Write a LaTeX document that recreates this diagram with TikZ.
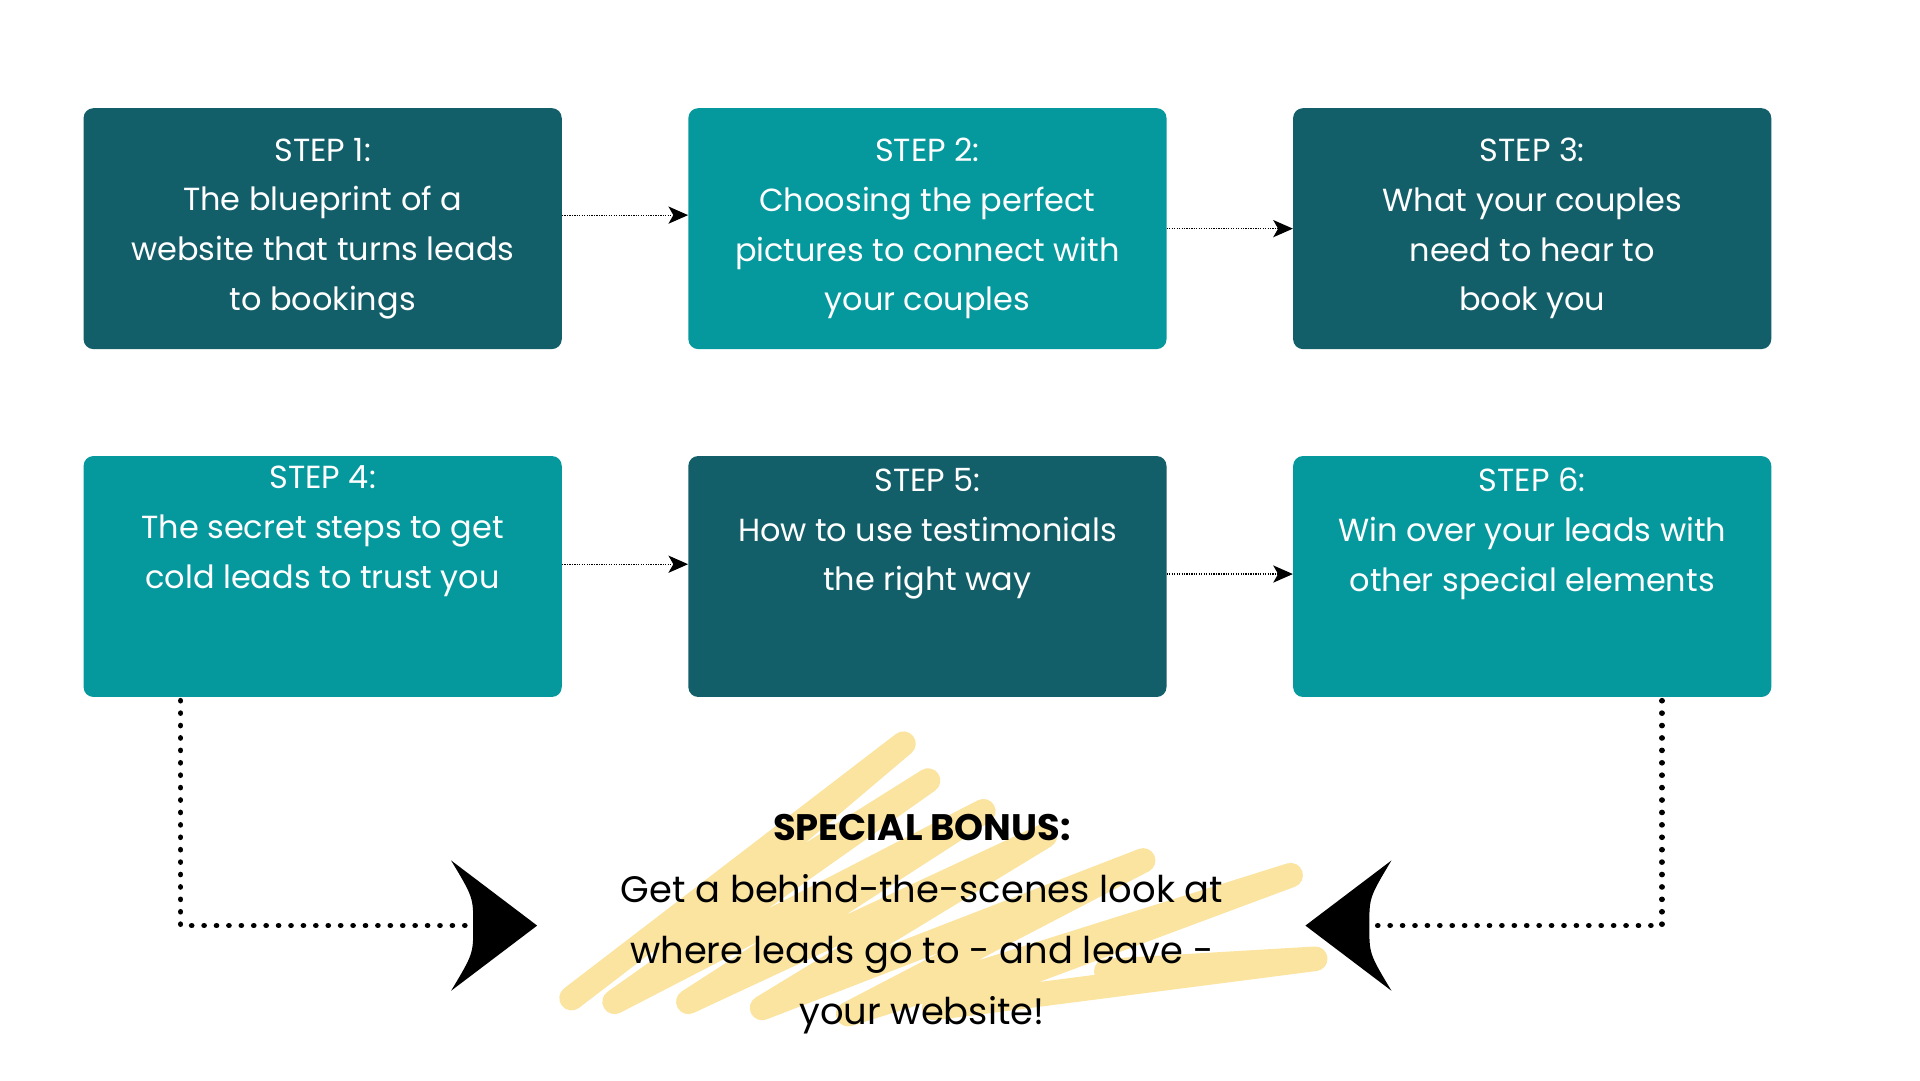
\documentclass[tikz,border=0pt]{standalone}
\usepackage{fontspec}
\setmainfont{Poppins}
\usetikzlibrary{arrows.meta}
\definecolor{dark}{HTML}{125E69}
\definecolor{teal}{HTML}{05989D}
\definecolor{scrib}{HTML}{FBE3A0}
\begin{document}
\begin{tikzpicture}[x=1pt,y=-1pt,
  box/.style={rounded corners=8pt,minimum width=389pt,minimum height=196pt,inner sep=0pt,text=white,align=center,font=\fontsize{26}{40.5}\selectfont},
  link/.style={densely dotted,line width=1pt,-{Stealth[length=16pt,width=14pt,inset=4pt]}},
  big/.style={dotted,line width=4.5pt,line cap=round,dash pattern=on 0.1pt off 10pt}]
\useasboundingbox (0,0) rectangle (1562,879);
\node[box,fill=dark] (s1) at (262.5,186) {STEP 1:\\The blueprint of a\\website that turns leads\\to bookings};
\node[box,fill=teal] (s2) at (754.5,186) {STEP 2:\\Choosing the perfect\\pictures to connect with\\your couples};
\node[box,fill=dark] (s3) at (1246.5,186) {STEP 3:\\What your couples\\need to hear to\\book you};
\node[box,fill=teal] (s4) at (262.5,469) {STEP 4:\\The secret steps to get\\cold leads to trust you\\[40pt]};
\node[box,fill=dark] (s5) at (754.5,469) {STEP 5:\\How to use testimonials\\the right way\\[36pt]};
\node[box,fill=teal] (s6) at (1246.5,469) {STEP 6:\\Win over your leads with\\other special elements\\[36pt]};
\draw[link] (s1.east |- 0,175) -- (s2.west |- 0,175);
\draw[link] (s2.east |- 0,186) -- (s3.west |- 0,186);
\draw[link] (s4.east |- 0,459) -- (s5.west |- 0,459);
\draw[link] (s5.east |- 0,467) -- (s6.west |- 0,467);
% scribble
\draw[scrib,line width=20pt,line cap=round,line join=round]
 (465,812) -- (735,605) -- (540,770) -- (755,635) -- (500,815) -- (800,660)
 -- (560,815) -- (850,680) -- (620,820) -- (930,700) -- (690,825) -- (1050,712)
 -- (760,820) -- (1070,780) -- (900,790);
\coordinate (l1) at (147,570);
\coordinate (l2) at (147,753);
\coordinate (l3) at (385,753);
\coordinate (r1) at (1352,570);
\coordinate (r2) at (1352,753);
\coordinate (r3) at (1115,753);
\draw[big] (l1) -- (l2) -- (l3);
\draw[big] (r1) -- (r2) -- (r3);
\fill[black] (437,753) -- (367,700) .. controls (385,730) .. (385,753) .. controls (385,776) .. (367,806) -- cycle;
\fill[black] (1062,753) -- (1132,700) .. controls (1114,730) .. (1114,753) .. controls (1114,776) .. (1132,806) -- cycle;
\node[align=center,font=\fontsize{30}{50}\selectfont,inner sep=0pt] (bonus) at (750,752)
 {\textbf{SPECIAL BONUS:}\\Get a behind-the-scenes look at\\where leads go to - and leave -\\your website!};
\end{tikzpicture}
\end{document}
